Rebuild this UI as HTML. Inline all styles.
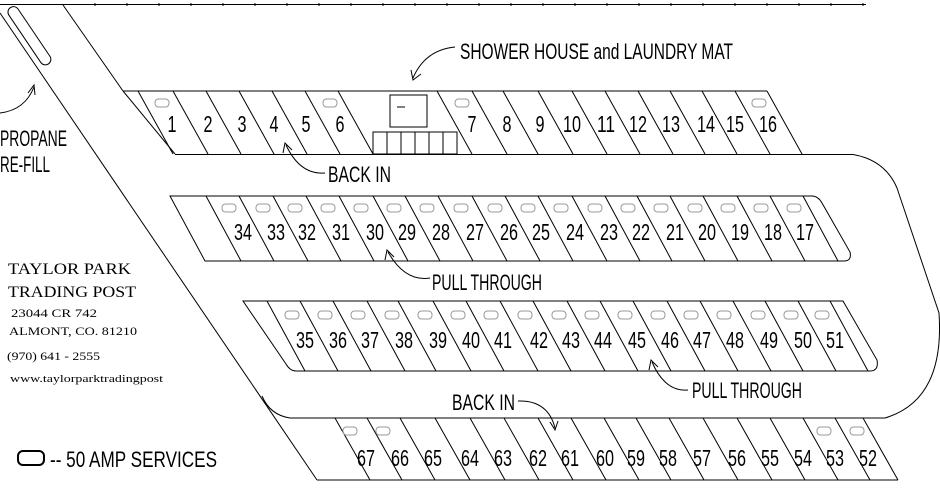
<!DOCTYPE html>
<html><head><meta charset="utf-8"><style>
html,body{margin:0;padding:0;background:#fff;width:940px;height:500px;overflow:hidden}
svg{display:block}
.n{font-family:"Liberation Sans Narrow","Liberation Sans",sans-serif;font-size:23px;fill:#000;text-anchor:middle}
.l{font-family:"Liberation Sans Narrow","Liberation Sans",sans-serif;font-size:22px;fill:#000}
.s{font-family:"Liberation Serif",serif;fill:#000}
</style></head><body>
<svg id="s" width="940" height="500" viewBox="0 0 940 500" xmlns="http://www.w3.org/2000/svg" fill="none" stroke="#000" stroke-width="1">
<line x1="0" y1="4.5" x2="866" y2="4.5"/>
<line x1="0" y1="13" x2="317" y2="480"/>
<line x1="63" y1="5" x2="123" y2="91"/>
<rect x="-5" y="30" width="68" height="11" rx="5.5" transform="rotate(56 29 36)"/>
<path d="M0,113 Q25,110 34,87"/><path d="M28,93 L34,85 L35,95"/>
<line x1="123" y1="91" x2="767" y2="91"/>
<line x1="175" y1="154.5" x2="853" y2="154.5"/>
<line x1="123" y1="91" x2="175" y2="154"/>
<rect x="390" y="95" width="37" height="32"/><line x1="397" y1="107" x2="405" y2="107"/>
<rect x="373" y="132" width="84" height="22"/>
<line x1="387" y1="132" x2="387" y2="154"/><line x1="401" y1="132" x2="401" y2="154"/><line x1="415" y1="132" x2="415" y2="154"/><line x1="429" y1="132" x2="429" y2="154"/><line x1="443" y1="132" x2="443" y2="154"/>
<path d="M853,154.5 Q885,160 897,188 L939,313 Q945,400 885,418 L290,418 Q270,415 262,396"/>
<path d="M170,196 L812,196 Q818,196 822,203 L850,252 Q852,261 844,261 L205,261 Z"/>
<path d="M243,301 L843,301 L877,360 Q879,371 870,371 L296,371 Q290,371 286,364 Z"/>
<line x1="317" y1="480" x2="898" y2="480"/>
<line x1="290" y1="418" x2="863" y2="418"/>
<line x1="863" y1="418" x2="898" y2="480"/>
<path d="M455,47 Q425,50 413,78"/><path d="M411,70 L413,80 L421,74"/>
<path d="M325,173 Q300,175 286,145"/><path d="M283,153 L285,143 L292,150"/>
<path d="M430,278 Q405,282 388,252"/><path d="M385,260 L387,250 L394,257"/>
<path d="M688,390 Q665,392 652,362"/><path d="M649,370 L651,360 L658,367"/>
<path d="M518,401 Q548,400 555,428"/><path d="M550,422 L555,430 L558,421"/>
<rect x="18" y="451" width="26" height="14" rx="5" stroke-width="2"/>
<g id="dyn"></g>
<g stroke="none">
<text class="l" x="460" y="59" textLength="273" lengthAdjust="spacingAndGlyphs">SHOWER HOUSE and LAUNDRY MAT</text>
<text class="l" x="328" y="182" textLength="63" lengthAdjust="spacingAndGlyphs">BACK IN</text>
<text class="l" x="432" y="290" textLength="110" lengthAdjust="spacingAndGlyphs">PULL THROUGH</text>
<text class="l" x="692" y="398" textLength="110" lengthAdjust="spacingAndGlyphs">PULL THROUGH</text>
<text class="l" x="452" y="410" textLength="63" lengthAdjust="spacingAndGlyphs">BACK IN</text>
<text class="l" x="0" y="146" textLength="67" lengthAdjust="spacingAndGlyphs">PROPANE</text>
<text class="l" x="0" y="172" textLength="50" lengthAdjust="spacingAndGlyphs">RE-FILL</text>
<text class="l" x="50" y="467" font-size="25" textLength="167" lengthAdjust="spacingAndGlyphs">-- 50 AMP SERVICES</text>
<text class="s" x="8" y="274" font-size="16" textLength="123" lengthAdjust="spacingAndGlyphs">TAYLOR PARK</text>
<text class="s" x="8" y="297" font-size="16" textLength="128" lengthAdjust="spacingAndGlyphs">TRADING POST</text>
<text class="s" x="11" y="317" font-size="12" textLength="86" lengthAdjust="spacingAndGlyphs">23044 CR 742</text>
<text class="s" x="9" y="335" font-size="12" textLength="128" lengthAdjust="spacingAndGlyphs">ALMONT, CO. 81210</text>
<text class="s" x="7" y="360" font-size="12" textLength="93" lengthAdjust="spacingAndGlyphs">(970) 641 - 2555</text>
<text class="s" x="10" y="382" font-size="11" textLength="153" lengthAdjust="spacingAndGlyphs">www.taylorparktradingpost</text>
<g class="n" id="nums">
<text x="172" y="132">1</text><text x="208" y="132">2</text><text x="242" y="132">3</text><text x="274" y="132">4</text><text x="306" y="132">5</text><text x="340" y="132">6</text><text x="472" y="132">7</text><text x="507" y="132">8</text><text x="540" y="132">9</text><text x="572" y="132">10</text><text x="606" y="132">11</text><text x="638" y="132">12</text><text x="671" y="132">13</text><text x="706" y="132">14</text><text x="735" y="132">15</text><text x="768" y="132">16</text>
<text x="243" y="240">34</text><text x="276" y="240">33</text><text x="307" y="240">32</text><text x="341" y="240">31</text><text x="375" y="240">30</text><text x="407" y="240">29</text><text x="441" y="240">28</text><text x="475" y="240">27</text><text x="509" y="240">26</text><text x="541" y="240">25</text><text x="575" y="240">24</text><text x="609" y="240">23</text><text x="641" y="240">22</text><text x="675" y="240">21</text><text x="707" y="240">20</text><text x="740" y="240">19</text><text x="773" y="240">18</text><text x="805" y="240">17</text>
<text x="305" y="348">35</text><text x="338" y="348">36</text><text x="370" y="348">37</text><text x="404" y="348">38</text><text x="438" y="348">39</text><text x="471" y="348">40</text><text x="503" y="348">41</text><text x="539" y="348">42</text><text x="571" y="348">43</text><text x="603" y="348">44</text><text x="637" y="348">45</text><text x="670" y="348">46</text><text x="702" y="348">47</text><text x="735" y="348">48</text><text x="769" y="348">49</text><text x="803" y="348">50</text><text x="835" y="348">51</text>
<text x="366" y="466">67</text><text x="400" y="466">66</text><text x="433" y="466">65</text><text x="470" y="466">64</text><text x="503" y="466">63</text><text x="538" y="466">62</text><text x="570" y="466">61</text><text x="605" y="466">60</text><text x="636" y="466">59</text><text x="668" y="466">58</text><text x="702" y="466">57</text><text x="737" y="466">56</text><text x="770" y="466">55</text><text x="803" y="466">54</text><text x="835" y="466">53</text><text x="868" y="466">52</text>
</g></g>
</svg>
<script>
var g=document.getElementById('dyn'),NS='http://www.w3.org/2000/svg';
function ln(a,b,c,d){var e=document.createElementNS(NS,'line');e.setAttribute('x1',a);e.setAttribute('y1',b);e.setAttribute('x2',c);e.setAttribute('y2',d);g.appendChild(e);}
function pill(x,y){var e=document.createElementNS(NS,'rect');e.setAttribute('x',x-7);e.setAttribute('y',y-4);e.setAttribute('width',14);e.setAttribute('height',8);e.setAttribute('rx',3.5);e.setAttribute('stroke','#999');g.appendChild(e);}
[138,173,206,239,272,305,338,437,472,503,538,572,605,638,670,702,735,767].forEach(function(x){ln(x,91,x+35,154);});
[206,239,273,306,339,373,405,438,472,505,538,572,605,637,670,703,737,770,803].forEach(function(x){ln(x,196,x+35,261);});
[267,300,333,367,398,433,466,500,533,567,600,633,667,700,733,765,798,830].forEach(function(x){ln(x,301,x+38,371);});
[335,367,400,435,470,504,538,571,604,636,669,703,737,770,803,835].forEach(function(x){ln(x,418,x+35,480);});
for(var x=95;x<866;x+=32)ln(x,3,x,6);
[162,330,462,759].forEach(function(x){pill(x,103);});
[229,263,295,328,361,394,427,461,495,528,561,595,628,661,695,728,761,794].forEach(function(x){pill(x,208);});
[292,325,358,392,425,458,491,525,559,592,625,658,691,724,758,791,822].forEach(function(x){pill(x,315);});
[350,383,824,857].forEach(function(x){pill(x,431);});
var ts=document.getElementById('nums').getElementsByTagName('text');
for(var i=0;i<ts.length;i++){var L=ts[i].textContent.length;ts[i].setAttribute('textLength',L==1?9:18);ts[i].setAttribute('lengthAdjust','spacingAndGlyphs');}
</script>
</body></html>
